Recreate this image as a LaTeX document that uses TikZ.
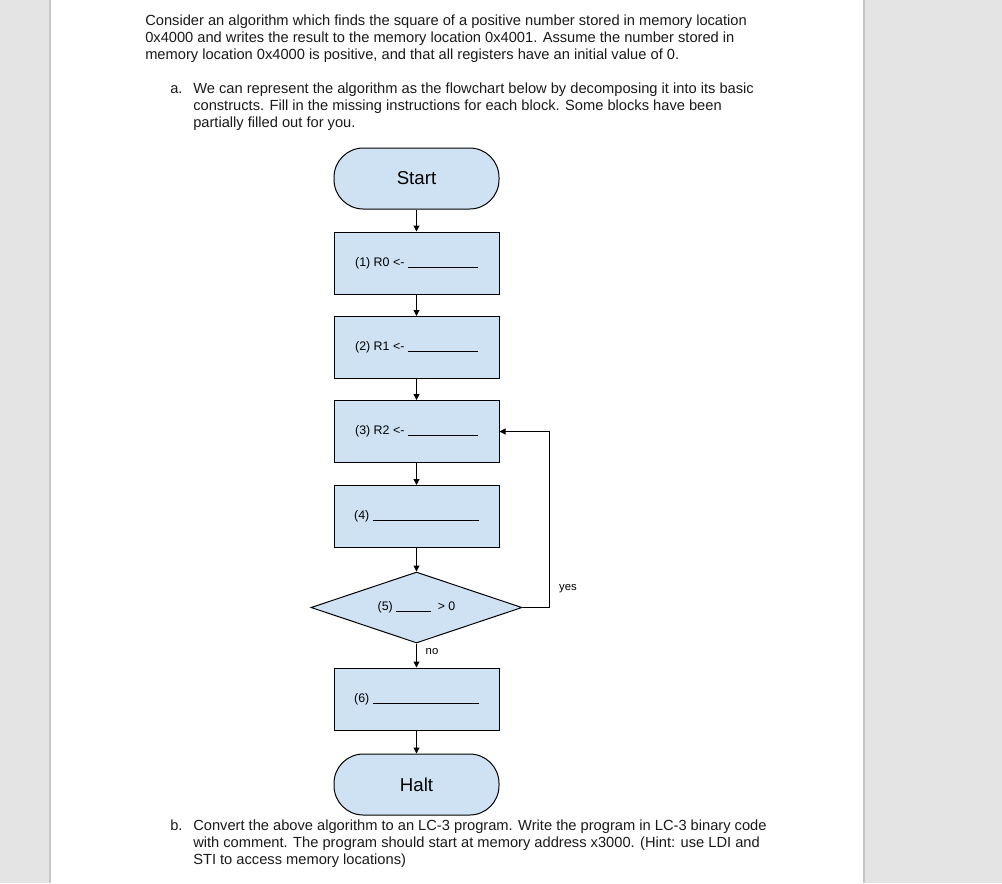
\documentclass[tikz,border=0pt]{standalone}
\usepackage{fontspec}
\setmainfont{Liberation Sans}
\usetikzlibrary{shapes.geometric,arrows.meta}
\definecolor{bg}{HTML}{E4E4E4}
\definecolor{edgec}{HTML}{C6C6C6}
\definecolor{fillb}{HTML}{CFE2F3}
\definecolor{ink}{HTML}{1A1A1A}
\newcommand{\blankline}[1]{\rule[-1pt]{#1}{0.6pt}}
\begin{document}
\begin{tikzpicture}[x=0.75pt,y=-0.75pt,
  para/.style={anchor=base west, inner sep=0, text=ink, font=\fontsize{11}{13}\selectfont},
  proc/.style={draw, fill=fillb, minimum width=123.75pt, minimum height=46.5pt, inner sep=0, line width=0.75pt, font=\fontsize{9.3}{11}\selectfont},
  term/.style={draw, fill=fillb, rounded corners=22pt, minimum width=123.75pt, minimum height=45.75pt, inner sep=0, line width=0.75pt, font=\fontsize{14}{16}\selectfont},
  dec/.style={diamond, aspect=2.97, draw, fill=fillb, minimum width=158.25pt, minimum height=53.25pt, inner sep=0, line width=0.75pt, font=\fontsize{9.3}{11}\selectfont},
  lab/.style={inner sep=0, font=\fontsize{8.5}{10}\selectfont},
  arr/.style={-{Triangle[length=4.5pt,width=4.5pt]}, line width=0.75pt}]
\useasboundingbox (0,0) rectangle (1002,883);
\fill[bg] (0,0) rectangle (1002,883);
\fill[white] (50,0) rectangle (864,883);
\draw[edgec, line width=1pt] (50,0) -- (50,883);
\draw[edgec, line width=1pt] (864,0) -- (864,883);

% text
\node[para] (t1) at (145,25) {Consider an algorithm which finds the square of a positive number stored in memory location};
\node[para] (t2) at (145,42) {0x4000 and writes the result to the memory location 0x4001. Assume the number stored in};
\node[para] (t3) at (145,59) {memory location 0x4000 is positive, and that all registers have an initial value of 0.};
\node[para] (a0) at (170,93) {a.};
\node[para] (a1) at (193,93) {We can represent the algorithm as the flowchart below by decomposing it into its basic};
\node[para] (a2) at (193,110) {constructs. Fill in the missing instructions for each block. Some blocks have been};
\node[para] (a3) at (193,127) {partially filled out for you.};
\node[para] (b0) at (170,830) {b.};
\node[para] (b1t) at (193,830) {Convert the above algorithm to an LC-3 program. Write the program in LC-3 binary code};
\node[para] (b2t) at (193,847) {with comment. The program should start at memory address x3000. (Hint: use LDI and};
\node[para] (b3t) at (193,864) {STI to access memory locations)};

% flowchart
\node[term] (start) at (416.5,178.5) {Start};
\node[proc] (p1) at (416.5,263) {(1) R0 <- \blankline{52.5pt}};
\node[proc] (p2) at (416.5,347.5) {(2) R1 <- \blankline{52.5pt}};
\node[proc] (p3) at (416.5,431.5) {(3) R2 <- \blankline{52.5pt}};
\node[proc] (p4) at (416.5,516.5) {(4) \blankline{79.5pt}};
\node[dec] (d5) at (416.5,607.5) {(5) \blankline{26pt} \ > 0};
\node[proc] (p6) at (416.5,699) {(6) \blankline{79.5pt}};
\node[term] (halt) at (416.5,784.5) {Halt};

\draw[arr] (start) -- (p1);
\draw[arr] (p1) -- (p2);
\draw[arr] (p2) -- (p3);
\draw[arr] (p3) -- (p4);
\draw[arr] (p4) -- (d5);
\draw[arr] (d5) -- (p6);
\draw[arr] (p6) -- (halt);
\draw[arr] (d5.east) -- ++(27,0) |- (p3.east);
\node[lab] (yes) at (568,589) {yes};
\node[lab] (no) at (432,651) {no};
\end{tikzpicture}
\end{document}
